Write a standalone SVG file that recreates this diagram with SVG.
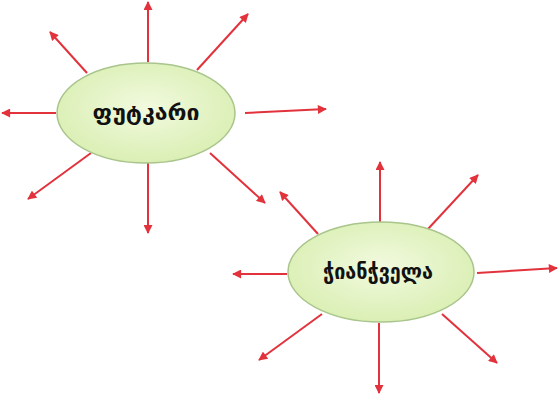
<svg xmlns="http://www.w3.org/2000/svg" width="560" height="420" viewBox="0 0 560 420">
<style>
.arrow{stroke:#e2323c;stroke-width:2;fill:none;marker-end:url(#ah)}
.node{fill:url(#g);stroke:#a9c58c;stroke-width:1.5}
.lbl{font-family:"DejaVu Sans","Noto Sans Georgian",sans-serif;font-weight:bold;font-size:21px;fill:#111;text-anchor:middle}
</style>
<defs>
<radialGradient id="g" cx="50%" cy="45%" r="60%">
<stop offset="0" stop-color="#f2fadf"/>
<stop offset="1" stop-color="#d8eeb0"/>
</radialGradient>
<marker id="ah" viewBox="0 0 10 10" refX="9" refY="5" markerWidth="10" markerHeight="9" markerUnits="userSpaceOnUse" orient="auto">
<path d="M0,0 L10,5 L0,10 z" fill="#e2323c"/>
</marker>
</defs>
<rect width="560" height="420" fill="#ffffff"/>
<g id="connectors">
<line class="arrow" x1="148" y1="62" x2="148" y2="2"/>
<line class="arrow" x1="197" y1="70" x2="248" y2="14"/>
<line class="arrow" x1="87" y1="73" x2="50" y2="32"/>
<line class="arrow" x1="56" y1="113" x2="2" y2="113"/>
<line class="arrow" x1="245" y1="113" x2="326" y2="109"/>
<line class="arrow" x1="91" y1="153" x2="28" y2="199"/>
<line class="arrow" x1="148" y1="163" x2="148" y2="233"/>
<line class="arrow" x1="210" y1="153" x2="265" y2="203"/>
<line class="arrow" x1="380" y1="222" x2="380" y2="162"/>
<line class="arrow" x1="428" y1="229" x2="478" y2="175"/>
<line class="arrow" x1="318" y1="234" x2="280" y2="192"/>
<line class="arrow" x1="287" y1="274" x2="233" y2="274"/>
<line class="arrow" x1="477" y1="273" x2="557" y2="268"/>
<line class="arrow" x1="322" y1="314" x2="259" y2="360"/>
<line class="arrow" x1="379" y1="323" x2="379" y2="393"/>
<line class="arrow" x1="442" y1="314" x2="497" y2="363"/>
</g>
<g id="node-bee">
<ellipse class="node" cx="146" cy="113" rx="89" ry="50"/>
<text class="lbl" x="146" y="120" textLength="107" lengthAdjust="spacingAndGlyphs">ფუტკარი</text>
</g>
<g id="node-ant">
<ellipse class="node" cx="381" cy="272" rx="93" ry="50"/>
<text class="lbl" x="378" y="279" textLength="110" lengthAdjust="spacingAndGlyphs">ჭიანჭველა</text>
</g>
</svg>
